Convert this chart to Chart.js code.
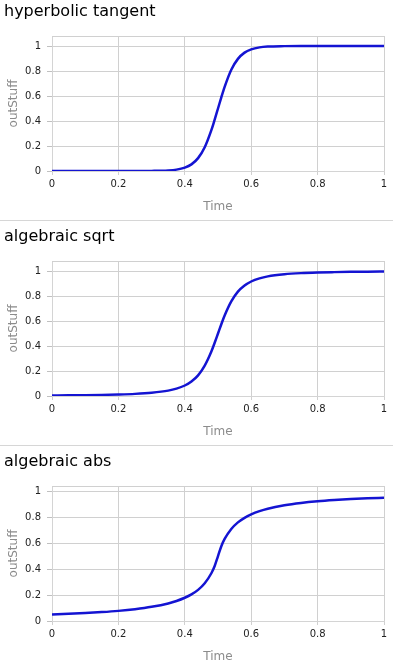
<!DOCTYPE html>
<html>
<head>
<meta charset="utf-8">
<script src="https://cdn.jsdelivr.net/npm/chart.js@4/dist/chart.umd.min.js"></script>
<style>
  html, body { margin: 0; padding: 0; background: #fff; }
  body { width: 393px; height: 666px; position: relative; overflow: hidden; font-family: "DejaVu Sans", sans-serif; }
  .panel { position: absolute; left: 0; width: 393px; height: 225px; }
  .title { position: absolute; left: 4px; top: 1px; font-size: 16px; line-height: 20px; color: #000; z-index: 2; }
  .panel canvas { position: absolute; left: 0; top: 0; }
  .sep { position: absolute; left: 0; top: 220px; width: 393px; height: 1px; background: #d6d6d6; }
</style>
</head>
<body>
<script>
// ---- data ----
const titles = ["hyperbolic tangent", "algebraic sqrt", "algebraic abs"];
const timeValues = [0, 0.05, 0.1, 0.15, 0.2, 0.25, 0.3, 0.35, 0.375, 0.4, 0.42, 0.44, 0.46, 0.48, 0.49, 0.5,
                    0.51, 0.52, 0.54, 0.56, 0.58, 0.6, 0.625, 0.65, 0.7, 0.75, 0.8, 0.85, 0.9, 0.95, 1];
const tanhValues = [0, 0, 0, 0, 0, 0.0001, 0.0008, 0.0045, 0.011, 0.027, 0.053, 0.103, 0.19, 0.327, 0.411, 0.5,
                    0.589, 0.673, 0.81, 0.897, 0.947, 0.973, 0.989, 0.9955, 0.999, 1, 1, 1, 1, 1, 1];
const sqrtValues = [0.0044, 0.0054, 0.0068, 0.0088, 0.012, 0.017, 0.026, 0.043, 0.059, 0.084, 0.116, 0.165, 0.243, 0.356, 0.426, 0.5,
                    0.574, 0.644, 0.757, 0.835, 0.884, 0.916, 0.941, 0.957, 0.974, 0.983, 0.988, 0.991, 0.9932, 0.9946, 0.9956];
const absValues  = [0.05, 0.055, 0.061, 0.0685, 0.078, 0.091, 0.109, 0.135, 0.154, 0.179, 0.205, 0.24, 0.291, 0.368, 0.424, 0.5,
                    0.576, 0.632, 0.709, 0.76, 0.795, 0.821, 0.846, 0.865, 0.891, 0.909, 0.922, 0.9315, 0.939, 0.945, 0.95];
const seriesList = [tanhValues, sqrtValues, absValues];
const yMaxList = [1.08, 1.08, 1.04];
const xTickValues = [0, 0.2, 0.4, 0.6, 0.8, 1];
const yTickValues = [0, 0.2, 0.4, 0.6, 0.8, 1];
const xTitle = "Time";
const yTitle = "outStuff";

// ---- chart ----
Chart.defaults.font.family = "'DejaVu Sans', sans-serif";
Chart.defaults.font.size = 10;
Chart.defaults.color = "#222";

const topBorder = {
  id: 'topBorder',
  beforeDatasetsDraw(chart) {
    const a = chart.chartArea, ctx = chart.ctx;
    ctx.save();
    ctx.strokeStyle = '#d0d0d0';
    ctx.lineWidth = 1;
    ctx.beginPath();
    ctx.moveTo(a.left, Math.round(a.top) + 0.5);
    ctx.lineTo(a.right, Math.round(a.top) + 0.5);
    ctx.stroke();
    ctx.restore();
  }
};

titles.forEach((t, i) => {
  const panel = document.createElement('div');
  panel.className = 'panel';
  panel.style.top = (i * 225) + 'px';
  const title = document.createElement('div');
  title.className = 'title';
  title.textContent = t;
  const canvas = document.createElement('canvas');
  canvas.width = 393; canvas.height = 220;
  canvas.style.width = '393px'; canvas.style.height = '220px';
  panel.appendChild(canvas);
  panel.appendChild(title);
  if (i < titles.length - 1) {
    const sep = document.createElement('div');
    sep.className = 'sep';
    panel.appendChild(sep);
  }
  document.body.appendChild(panel);

  const vals = seriesList[i];
  new Chart(canvas, {
    type: 'line',
    data: {
      datasets: [{
        data: timeValues.map((x, k) => ({ x: x, y: vals[k] })),
        borderColor: '#1414d2',
        borderWidth: 2.5,
        pointRadius: 0,
        fill: false,
        cubicInterpolationMode: 'monotone'
      }]
    },
    options: {
      responsive: false,
      animation: false,
      layout: { padding: { top: 36, right: 9, left: 0, bottom: 0 } },
      plugins: { legend: { display: false }, tooltip: { enabled: false } },
      scales: {
        x: {
          type: 'linear', min: 0, max: 1,
          afterBuildTicks: s => { s.ticks = xTickValues.map(v => ({ value: v })); },
          afterFit: s => { s.height = 49; },
          ticks: { padding: 3, maxRotation: 0, callback: v => String(v), color: '#222' },
          grid: {
            color: ctx => (ctx.tick && ctx.tick.value === 0) ? 'rgba(0,0,0,0)' : '#d0d0d0',
            tickColor: '#d0d0d0', tickLength: 4, lineWidth: 1
          },
          border: { display: true, color: '#d4d4d4' },
          title: { display: true, text: xTitle, color: '#8c8c8c', font: { size: 12 }, padding: { top: 4, bottom: 6 } }
        },
        y: {
          min: 0, max: yMaxList[i],
          afterBuildTicks: s => { s.ticks = yTickValues.map(v => ({ value: v })); },
          afterFit: s => { s.width = 52; },
          ticks: { padding: 6, callback: v => String(v), color: '#222' },
          grid: {
            color: ctx => (ctx.tick && ctx.tick.value === 0) ? 'rgba(0,0,0,0)' : '#d0d0d0',
            tickColor: '#c0c0c0', tickLength: 5, lineWidth: 1
          },
          border: { display: true, color: '#d4d4d4' },
          title: { display: true, text: yTitle, color: '#8c8c8c', font: { size: 12 }, padding: { top: 7, bottom: 0 } }
        }
      }
    },
    plugins: [topBorder]
  });
});
</script>
</body>
</html>
